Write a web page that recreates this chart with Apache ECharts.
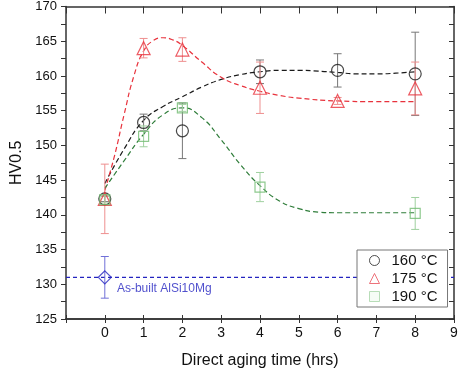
<!DOCTYPE html>
<html><head><meta charset="utf-8">
<script src="https://cdn.jsdelivr.net/npm/echarts@6/dist/echarts.min.js"></script>
<style>html,body{margin:0;padding:0;background:#fff}#c{width:474px;height:379px}</style>
</head><body><div id="c"></div>
<script>
// ---- data ----
const times = [0, 1, 2, 4, 6, 8];
const hv160 = [142.3, 153.3, 152.1, 160.6, 160.8, 160.3];
const err160 = [0.4, 1.2, 4.0, 1.7, 2.4, 6.0];
const hv175 = [142.3, 164.0, 163.8, 158.3, 156.4, 158.2];
const err175 = [5.0, 1.4, 1.7, 3.7, 0.5, 3.8];
const hv190 = [142.2, 151.3, 155.4, 144.0, null, 140.2];
const err190 = [0.5, 1.5, 0.5, 2.1, null, 2.3];
const asBuiltX = [0];
const asBuiltHV = [131.0];
const asBuiltErr = [3.0];
// fitted (dashed) curves
const fitX160 = [0, 0.5, 1, 1.5, 2, 2.5, 3, 3.5, 4, 4.5, 5, 5.5, 6, 6.5, 7, 7.5, 8];
const fit160 = [144.5, 149.5, 153.6, 155.6, 157.0, 158.4, 159.5, 160.2, 160.6, 160.8, 160.8, 160.7, 160.5, 160.3, 160.3, 160.4, 160.6];
const fitX175 = [0, 0.25, 0.5, 0.75, 1, 1.25, 1.5, 1.75, 2, 2.5, 3, 3.5, 4, 4.5, 5, 6, 7, 8];
const fit175 = [143.5, 148.5, 154.5, 160.0, 163.6, 165.1, 165.5, 165.2, 164.4, 162.0, 159.8, 158.6, 157.8, 157.2, 156.8, 156.4, 156.3, 156.3];
const fitX190 = [0, 0.5, 1, 1.5, 2, 2.5, 3, 3.5, 4, 4.5, 5, 5.5, 6, 7, 8];
const fit190 = [143.8, 147.8, 151.6, 154.4, 155.4, 154.0, 150.8, 147.2, 144.2, 142.0, 140.9, 140.4, 140.3, 140.3, 140.3];
const asBuiltLineX = [-1, 9];
const asBuiltLineY = [131.0, 131.0];
const xTicks = [-1, 0, 1, 2, 3, 4, 5, 6, 7, 8, 9];
const yTicks = [125, 130, 135, 140, 145, 150, 155, 160, 165, 170];
const names = ['160 °C', '175 °C', '190 °C'];

const pts = (xs, ys) => xs.map((x, i) => [x, ys[i]]).filter(p => p[1] != null);
const errs = (xs, ys, es) => xs.map((x, i) => ys[i] == null ? null : [x, ys[i] - es[i], ys[i] + es[i]]).filter(Boolean);

function errSeries(data, color) {
  return {
    type: 'custom', data: data, z: 2, silent: true,
    renderItem: function (params, api) {
      const x = api.value(0);
      const a = api.coord([x, api.value(1)]);
      const b = api.coord([x, api.value(2)]);
      const w = 4;
      const st = { stroke: color, lineWidth: 1 };
      return { type: 'group', children: [
        { type: 'line', shape: { x1: a[0], y1: a[1], x2: b[0], y2: b[1] }, style: st },
        { type: 'line', shape: { x1: a[0] - w, y1: a[1], x2: a[0] + w, y2: a[1] }, style: st },
        { type: 'line', shape: { x1: b[0] - w, y1: b[1], x2: b[0] + w, y2: b[1] }, style: st }
      ] };
    }
  };
}

const black = '#1a1a1a', red = '#e8323c', green = '#72bb72', greenLine = '#2f7d3a', blue = '#2424c0';
const axisCol = '#333';
const font = 'Liberation Sans, Arial, sans-serif';
const hidden = { show: false };

const chart = echarts.init(document.getElementById('c'));
chart.setOption({
  animation: false,
  backgroundColor: '#fff',
  grid: { left: 66, right: 20, top: 5, bottom: 60 },
  legend: {
    data: [
      { name: names[0], icon: 'circle', itemStyle: { color: '#fff', borderColor: '#222', borderWidth: 1 } },
      { name: names[1], icon: 'triangle', itemStyle: { color: '#fff', borderColor: '#e8505a', borderWidth: 1 } },
      { name: names[2], icon: 'rect', itemStyle: { color: '#f4fbf4', borderColor: '#a8d4a8', borderWidth: 1 } }
    ],
    orient: 'vertical', left: 357, top: 250,
    padding: [3, 10, 3, 12], itemGap: 3, itemWidth: 10, itemHeight: 10,
    borderColor: '#777', borderWidth: 1, backgroundColor: '#fff',
    textStyle: { fontFamily: font, fontSize: 15, color: '#111', padding: [0, 0, 0, 7] }
  },
  xAxis: [{
    type: 'value', min: -1, max: 9, interval: 1,
    name: 'Direct aging time (hrs)', nameLocation: 'middle', nameGap: 34,
    nameTextStyle: { fontFamily: font, fontSize: 16, color: '#111' },
    axisLine: { onZero: false, lineStyle: { color: axisCol, width: 1.5 } },
    axisTick: { inside: false, length: 4, lineStyle: { color: axisCol } },
    axisLabel: { fontFamily: font, fontSize: 14, color: '#111', margin: 7,
      formatter: v => (xTicks.includes(v) && v >= 0) ? String(v) : '' },
    splitLine: hidden
  }, {
    type: 'value', position: 'bottom', min: -1, max: 9, interval: 1,
    axisLine: { onZero: false, lineStyle: { color: axisCol, width: 1.5 } },
    axisTick: { inside: true, length: 4, lineStyle: { color: axisCol } },
    axisLabel: hidden, splitLine: hidden
  }, {
    type: 'value', position: 'top', min: -1, max: 9, interval: 1,
    axisLine: { onZero: false, lineStyle: { color: axisCol, width: 1.5 } },
    axisTick: { inside: true, length: 7, lineStyle: { color: axisCol } },
    axisLabel: hidden, splitLine: hidden
  }],
  yAxis: [{
    type: 'value', min: 125, max: 170, interval: 5,
    name: 'HV0.5', nameLocation: 'middle', nameGap: 40,
    nameTextStyle: { fontFamily: font, fontSize: 16, color: '#111' },
    axisLine: { show: true, onZero: false, lineStyle: { color: axisCol, width: 1.5 } },
    axisTick: { show: true, inside: false, length: 5, lineStyle: { color: axisCol } },
    minorTick: { show: true, splitNumber: 2, length: 5, lineStyle: { color: axisCol } },
    axisLabel: { fontFamily: font, fontSize: 13, color: '#111', margin: 9 },
    splitLine: hidden
  }, {
    type: 'value', position: 'right', min: 125, max: 170, interval: 5,
    axisLine: { show: true, onZero: false, lineStyle: { color: axisCol, width: 1.5 } },
    axisTick: { show: true, inside: true, length: 5, lineStyle: { color: axisCol } },
    minorTick: { show: true, splitNumber: 2, length: 5, lineStyle: { color: axisCol } },
    axisLabel: hidden, splitLine: hidden
  }],
  series: [
    { type: 'line', data: pts(asBuiltLineX, asBuiltLineY), symbol: 'none', silent: true,
      lineStyle: { color: blue, width: 1.2, type: [4, 3] }, z: 1 },
    { type: 'line', data: pts(fitX160, fit160), smooth: 0.5, symbol: 'none',
      lineStyle: { color: black, width: 1.2, type: [5, 3] }, z: 1 },
    { type: 'line', data: pts(fitX175, fit175), smooth: 0.5, symbol: 'none',
      lineStyle: { color: red, width: 1.2, type: [5, 3] }, z: 1 },
    { type: 'line', data: pts(fitX190, fit190), smooth: 0.5, symbol: 'none',
      lineStyle: { color: greenLine, width: 1.2, type: [5, 3] }, z: 1 },
    errSeries(errs(times, hv160, err160), '#777'),
    errSeries(errs(times, hv175, err175), '#ee8f8f'),
    errSeries(errs(times, hv190, err190), '#9fd09f'),
    errSeries(errs(asBuiltX, asBuiltHV, asBuiltErr), '#7070d8'),
    { name: names[0], type: 'scatter', data: pts(times, hv160), symbol: 'circle', symbolSize: 12,
      itemStyle: { color: 'rgba(255,255,255,0)', borderColor: black, borderWidth: 1.2 }, z: 5 },
    { name: names[1], type: 'scatter', data: pts(times, hv175), symbol: 'triangle', symbolSize: 13,
      itemStyle: { color: 'rgba(255,255,255,0)', borderColor: red, borderWidth: 1.2 }, z: 5 },
    { name: names[2], type: 'scatter', data: pts(times, hv190), symbol: 'rect', symbolSize: 10,
      itemStyle: { color: 'rgba(255,255,255,0)', borderColor: green, borderWidth: 1.2 }, z: 5 },
    { type: 'scatter', data: pts(asBuiltX, asBuiltHV), symbol: 'diamond', symbolSize: 13,
      itemStyle: { color: 'rgba(255,255,255,0)', borderColor: blue, borderWidth: 1.2 }, z: 5,
      label: { show: true, position: 'right', offset: [0, 11], formatter: 'As-built AlSi10Mg',
        fontFamily: font, fontSize: 12, color: blue } }
  ]
});
</script></body></html>
